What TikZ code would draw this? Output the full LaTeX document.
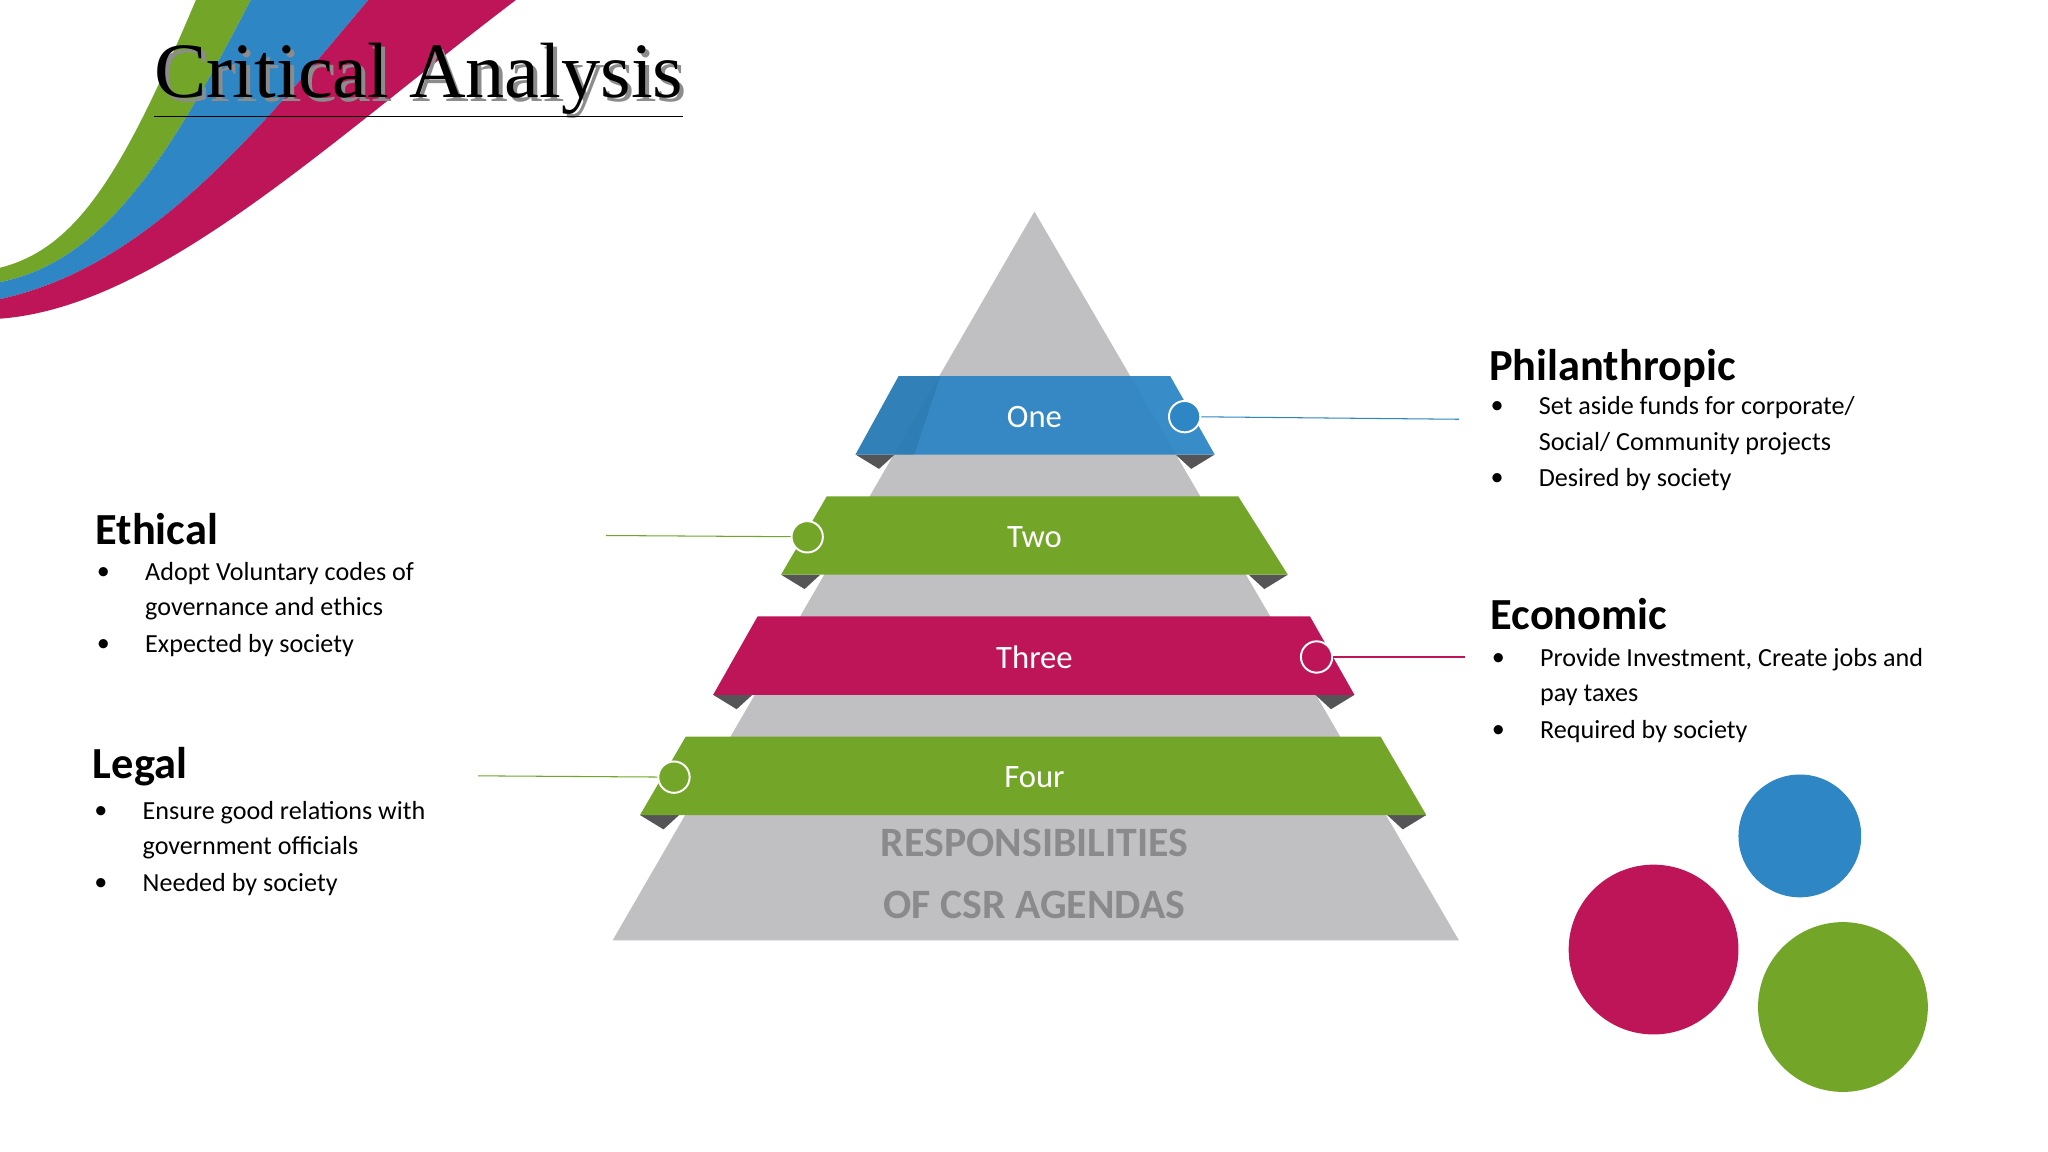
\documentclass[tikz,border=0pt]{standalone}
\usepackage{fontspec}
\setmainfont{Carlito}
\newfontfamily\titlefont{Liberation Serif}
\definecolor{pblue}{HTML}{2E86C4}
\definecolor{pgreen}{HTML}{73A628}
\definecolor{pmag}{HTML}{BE1558}
\definecolor{pgray}{HTML}{C0BFC1}
\definecolor{pdark}{HTML}{555558}
\definecolor{ptext}{HTML}{8A898C}
\tikzset{
 band/.style={draw=none},
 fold/.style={fill=pdark,draw=none},
 blabel/.style={text=white,font=\fontsize{25}{30}\selectfont},
 head/.style={anchor=west,font=\bfseries\fontsize{34}{40}\selectfont,inner sep=0},
 body/.style={anchor=west,font=\fontsize{20}{24}\selectfont,inner sep=0},
 dot/.style={circle,minimum size=24pt,inner sep=0,draw=white,line width=1.5pt},
 conn/.style={line width=0.8pt}
}
\begin{document}
\begin{tikzpicture}[x=1pt,y=-1pt]
\useasboundingbox (0,0) rectangle (1568,882);
\fill[white] (0,0) rectangle (1568,882);
% swooshes
\fill[pgreen] (150,0) .. controls (95,130) and (60,190) .. (0,205) -- (0,216) .. controls (80,200) and (130,120) .. (192,0) -- cycle;
\fill[pblue] (192,0) .. controls (130,120) and (80,200) .. (0,216) -- (0,229) .. controls (110,205) and (190,110) .. (282,0) -- cycle;
\fill[pmag] (282,0) .. controls (190,110) and (110,205) .. (0,229) -- (0,244) .. controls (120,235) and (250,110) .. (395,0) -- cycle;
% title
\node[anchor=base west,inner sep=0,text=black!45] at (121,78) {\titlefont\fontsize{60}{70}\selectfont Critical Analysis};
\node[anchor=base west,inner sep=0] (title) at (118,75) {\titlefont\fontsize{60}{70}\selectfont\underline{Critical Analysis}};
% pyramid
\fill[pgray] (792,162) -- (1117,720) -- (469,720) -- cycle;
% folds
\foreach \yb/\xl/\xr in {348/655/930, 440/598/986, 532/546/1037, 624/490/1092}{
  \fill[pdark] (\xl,\yb) -- (\xl+30,\yb) -- (\xl+18,\yb+11) -- cycle;
  \fill[pdark] (\xr,\yb) -- (\xr-30,\yb) -- (\xr-18,\yb+11) -- cycle;
}
\fill[pblue,opacity=0.95] (688,288) -- (896,288) -- (930,348) -- (655,348) -- cycle;
\fill[pblue!80!black,opacity=0.35] (688,288) -- (720,288) -- (700,348) -- (655,348) -- cycle;
\fill[pgreen] (633,380) -- (948,380) -- (986,440) -- (598,440) -- cycle;
\fill[pmag] (580,472) -- (1003,472) -- (1037,532) -- (546,532) -- cycle;
\fill[pgreen] (525,564) -- (1057,564) -- (1092,624) -- (490,624) -- cycle;
\node[blabel] (one) at (792,319) {One};
\node[blabel] (two) at (792,411) {Two};
\node[blabel] (three) at (792,503) {Three};
\node[blabel] (four) at (792,595) {Four};
\node[text=ptext,font=\bfseries\fontsize{32}{47}\selectfont,align=center] (resp) at (792,669) {RESPONSIBILITIES\\OF CSR AGENDAS};
% connectors
\coordinate (c1) at (1117,321);
\coordinate (c2) at (464,410);
\coordinate (c3) at (1122,503);
\coordinate (c4) at (366,594);
\node[dot,fill=pblue] (d1) at (907,319) {};
\node[dot,fill=pgreen] (d2) at (618,411) {};
\node[dot,fill=pmag] (d3) at (1008,503) {};
\node[dot,fill=pgreen] (d4) at (516,595) {};
\draw[conn,pblue] (d1) -- (c1);
\draw[conn,pgreen] (d2) -- (c2);
\draw[conn,pmag] (d3) -- (c3);
\draw[conn,pgreen] (d4) -- (c4);
% texts
\node[head] (ph) at (1140,282) {Philanthropic};
\node[body] at (1141,312) {•};
\node[body] at (1178,312) {Set aside funds for corporate/};
\node[body] at (1178,340) {Social/ Community projects};
\node[body] at (1141,367) {•};
\node[body] at (1178,367) {Desired by society};
\node[head] (ec) at (1141,470) {Economic};
\node[body] at (1142,505) {•};
\node[body] at (1179,505) {Provide Investment, Create jobs and};
\node[body] at (1179,532) {pay taxes};
\node[body] at (1142,560) {•};
\node[body] at (1179,560) {Required by society};
\node[head] (et) at (73,405) {Ethical};
\node[body] at (74,439) {•};
\node[body] at (111,439) {Adopt Voluntary codes of};
\node[body] at (111,466) {governance and ethics};
\node[body] at (74,494) {•};
\node[body] at (111,494) {Expected by society};
\node[head] (le) at (71,587) {Legal};
\node[body] at (72,622) {•};
\node[body] at (109,622) {Ensure good relations with};
\node[body] at (109,649) {government officials};
\node[body] at (72,677) {•};
\node[body] at (109,677) {Needed by society};
% deco circles
\fill[pblue] (1378,640) circle (47);
\fill[pmag] (1266,727) circle (65);
\fill[pgreen] (1411,771) circle (65);
\end{tikzpicture}
\end{document}
